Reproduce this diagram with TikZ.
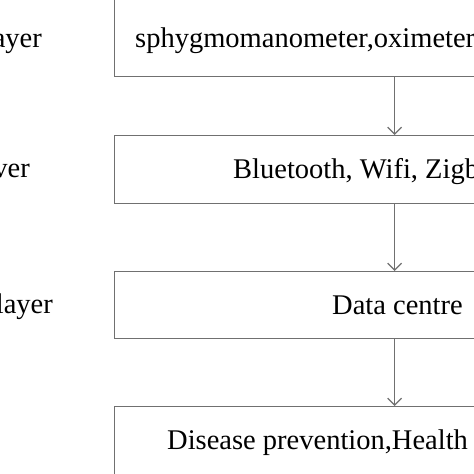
\documentclass[tikz,border=0pt]{standalone}
\usepackage{fontspec}
\setmainfont{Liberation Serif}
\usetikzlibrary{arrows.meta}
\definecolor{linegray}{HTML}{707070}
\begin{document}
\begin{tikzpicture}[x=1pt,y=-1pt,
    layerbox/.style={draw=linegray, line width=1.2pt, minimum width=560pt, anchor=north west, inner sep=0pt},
    flow/.style={draw=linegray, line width=1.2pt, -{Straight Barb[length=7pt,width=14pt]}},
    txt/.style={anchor=base west, inner sep=0pt, font=\fontsize{28.5}{34}\selectfont},
    lbl/.style={anchor=base east, inner sep=0pt, font=\fontsize{28.5}{34}\selectfont}]
    \useasboundingbox (0,0) rectangle (474,474);
    \clip (0,0) rectangle (474,474);
    \node[layerbox, minimum height=79pt] (b1) at (114,-3) {};
    \node[layerbox, minimum height=68pt] (b2) at (114,135) {};
    \node[layerbox, minimum height=67pt] (b3) at (114,271) {};
    \node[layerbox, minimum height=80pt] (b4) at (114,406) {};
    \draw[flow] (b1.south) -- (b2.north);
    \draw[flow] (b2.south) -- (b3.north);
    \draw[flow] (b3.south) -- (b4.north);
    \node[txt] (t1) at (135,47) {sphygmomanometer,oximeter};
    \node[txt] (t2) at (233,178) {Bluetooth, Wifi, Zigbee};
    \node[txt] (t3) at (332,314) {Data centre};
    \node[txt] (t4) at (167,449) {Disease prevention,Health};
    \node[lbl] (l1) at (42,47) {layer};
    \node[lbl] (l2) at (30,177) {ver};
    \node[lbl] (l3) at (53,313) {layer};
\end{tikzpicture}
\end{document}
